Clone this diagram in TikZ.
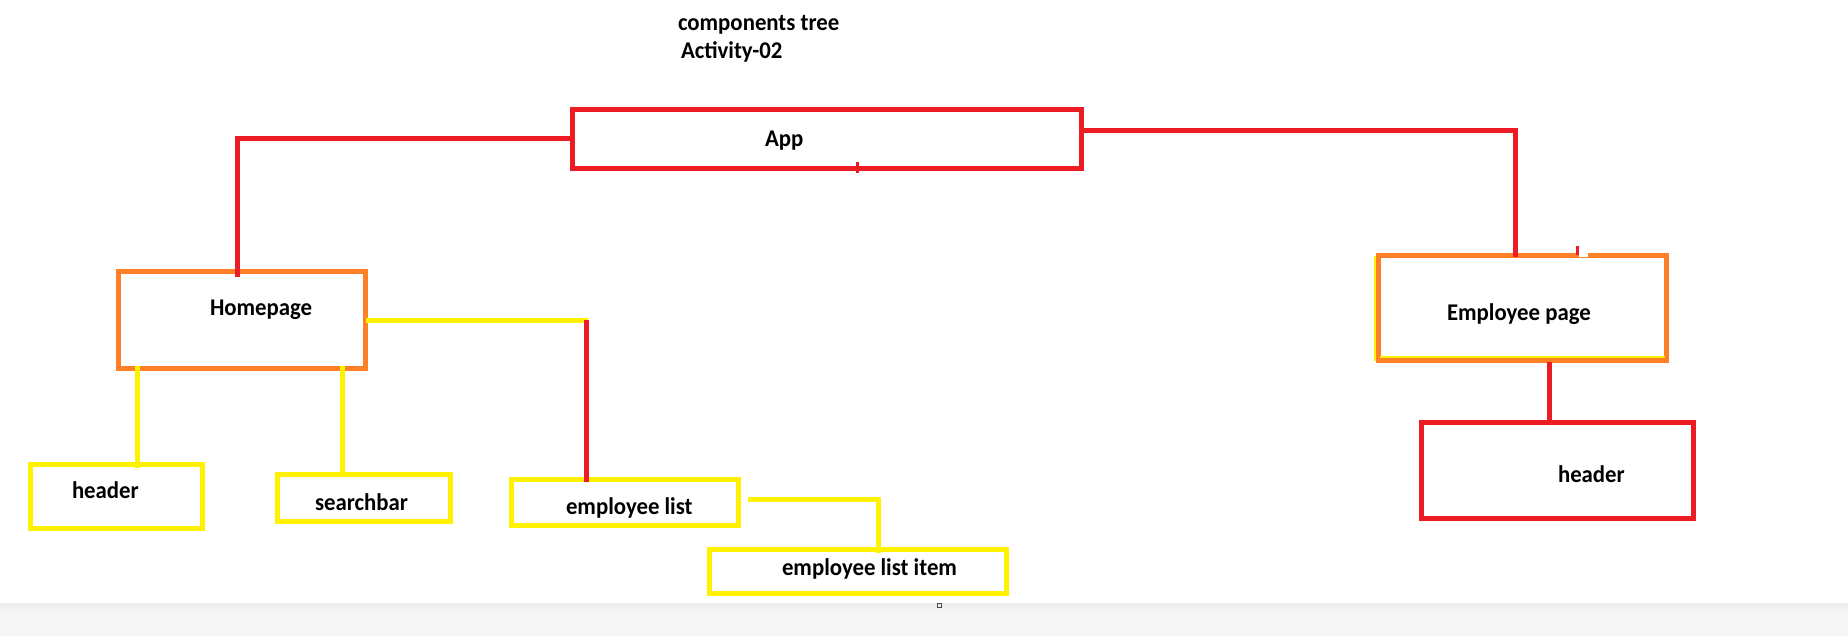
\documentclass[tikz,border=0pt]{standalone}
\usepackage{fontspec}
\newfontfamily\lblfont{Carlito}[FakeStretch=0.95]
\usetikzlibrary{calc}
\definecolor{pred}{HTML}{ED1C24}
\definecolor{porange}{HTML}{FF7F27}
\definecolor{pyellow}{HTML}{FFF200}
\tikzset{
  boxbase/.style={draw, line width=5pt, inner sep=0pt, outer sep=0pt, fill=none},
  boxr/.style={boxbase, draw=pred},
  boxo/.style={boxbase, draw=porange},
  boxy/.style={boxbase, draw=pyellow},
  rline/.style={draw=pred, line width=5pt},
  yline/.style={draw=pyellow, line width=5pt},
  lbl/.style={font=\lblfont\bfseries\fontsize{24}{28}\selectfont, inner sep=0pt, outer sep=0pt, anchor=base west, text=black},
}
\begin{document}
\begin{tikzpicture}[x=1pt,y=-1pt]
\useasboundingbox (0,0) rectangle (1848,636);
\fill[white] (0,0) rectangle (1848,636);
% bottom grey band
\shade[top color=black!8, bottom color=black!3.5] (0,603) rectangle (1848,612);
\fill[black!3.5] (0,612) rectangle (1848,636);
\draw[black!70, line width=1.2pt] (937.5,603.5) rectangle (941.5,607.5);

% title
\node[lbl] (t1) at (678,31) {components tree};
\node[lbl] (t2) at (681,59) {Activity-02};

% boxes
\node[boxr, minimum width=509pt, minimum height=59pt] (app) at (827,139) {};
\node[boxo, minimum width=247.5pt, minimum height=97pt] (hp) at (241.75,320) {};
\node[boxo, minimum width=288pt, minimum height=104.5pt] (ep) at (1522.5,308.25) {};
\node[boxr, minimum width=272pt, minimum height=96pt] (hdr) at (1557.5,470.5) {};
\node[boxy, minimum width=172pt, minimum height=64pt] (hdl) at (116.5,496.5) {};
\node[boxy, minimum width=173pt, minimum height=47pt] (sb) at (364,498.3) {};
\node[boxy, minimum width=227pt, minimum height=46.3pt] (el) at (625,502.35) {};
\node[boxy, minimum width=297pt, minimum height=44pt] (eli) at (858,571.5) {};

% yellow edges on Employee page box
\draw[pyellow, line width=2pt] (1374.5,256) -- (1374.5,361);
\draw[pyellow, line width=2pt] (1380,357) -- (1665,357);

% labels
\node[lbl] (appt) at (765,147) {App};
\node[lbl] (hpt) at (210,316) {Homepage};
\node[lbl] (ept) at (1447,321) {Employee page};
\node[lbl] (hdrt) at (1558,482) {header};
\node[lbl] (hdlt) at (72,498) {header};
\node[lbl] (sbt) at (315,510) {searchbar};
\node[lbl] (elt) at (566,514) {employee list};
\node[lbl] (elit) at (782,575) {employee list item};

% connectors
\draw[rline] (app.west) -| ($(hp.north)+(-4.75,5.5)$);
\draw[rline] ($(app.east)+(2.5,-8)$) -| ($(ep.north)+(-7.5,1)$);

\coordinate (elx) at ($(el.north)+(-39,3)$);
\draw[yline] ($(hp.east)+(0,1)$) -- ($(elx |- hp.east)+(2,1)$);
\draw[rline] ($(elx |- hp.east)+(0,0)$) -- (elx);

\coordinate (hlx) at ($(hdl.north)+(20.5,3.5)$);
\draw[yline] ($(hlx |- hp.south)+(0,-2)$) -- (hlx);
\coordinate (sbx) at ($(sb.north)+(-22,0)$);
\draw[yline] ($(sbx |- hp.south)+(0,-2)$) -- (sbx);

\coordinate (elix) at ($(eli.north)+(20.5,3)$);
\draw[yline] ($(el.east)+(9.5,-3)$) -| (elix);

\coordinate (ehx) at ($(hdr.north)+(-8,0)$);
\draw[rline] ($(ehx |- ep.south)+(0,2)$) -- (ehx);

% stray marks
\draw[pred, line width=3pt] (857,162) -- (857,173);
\fill[white] (1579,252.5) rectangle (1588,257);
\draw[pred, line width=3pt] (1577,246) -- (1577,255);
\end{tikzpicture}
\end{document}
